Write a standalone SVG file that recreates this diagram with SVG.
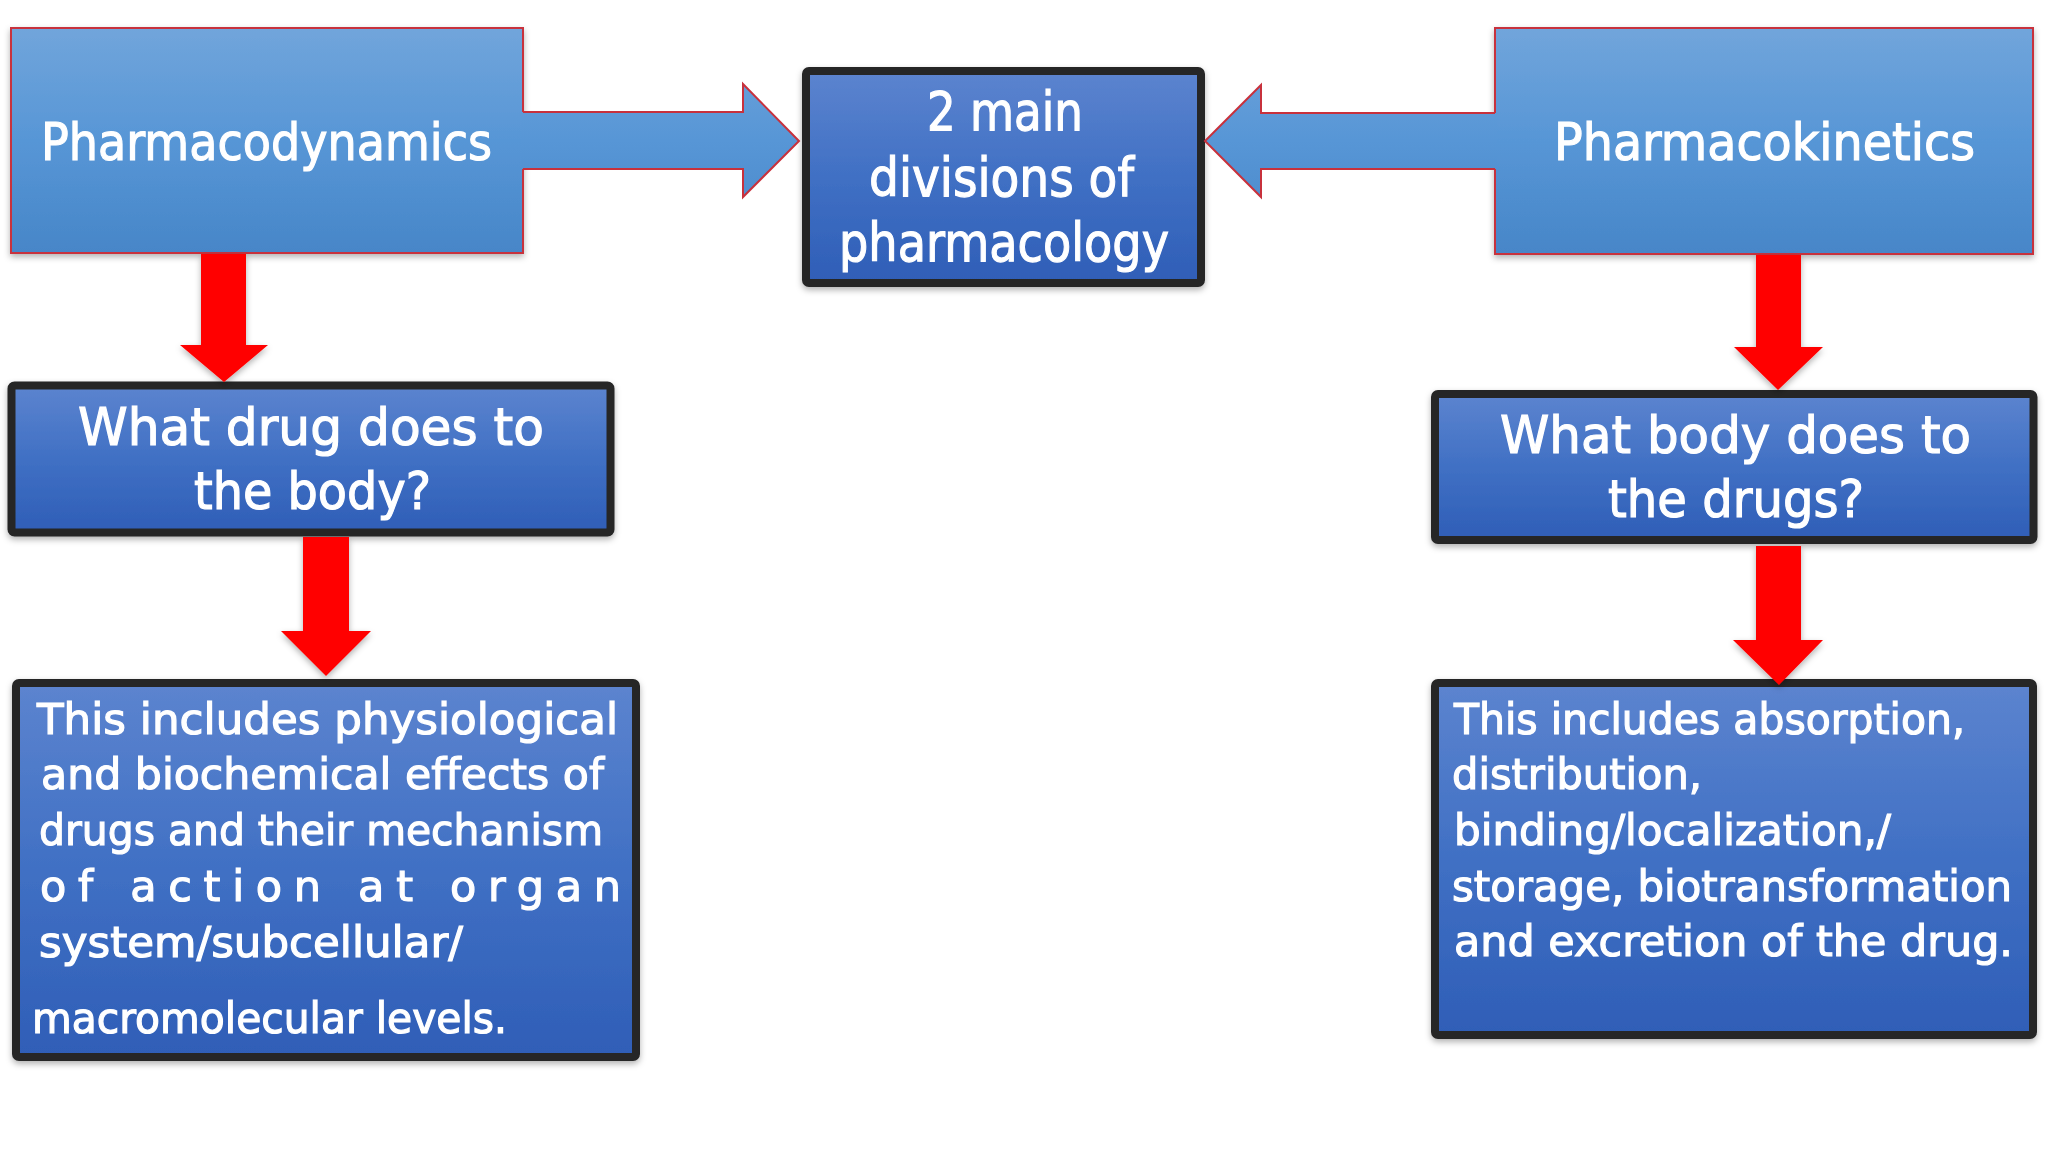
<svg xmlns="http://www.w3.org/2000/svg" width="2048" height="1152" viewBox="0 0 2048 1152">
  <defs>
    <linearGradient id="lightBlue" x1="0" y1="0" x2="0" y2="1">
      <stop offset="0" stop-color="#71A5DB"/>
      <stop offset="0.5" stop-color="#5796D6"/>
      <stop offset="1" stop-color="#4786C8"/>
    </linearGradient>
    <linearGradient id="lightBlueUse1" gradientUnits="userSpaceOnUse" x1="0" y1="28" x2="0" y2="253">
      <stop offset="0" stop-color="#71A5DB"/>
      <stop offset="0.5" stop-color="#5796D6"/>
      <stop offset="1" stop-color="#4786C8"/>
    </linearGradient>
    <linearGradient id="darkBlue" x1="0" y1="0" x2="0" y2="1">
      <stop offset="0" stop-color="#5C84CF"/>
      <stop offset="0.5" stop-color="#4070C4"/>
      <stop offset="1" stop-color="#2F5EB7"/>
    </linearGradient>
    <filter id="shadow" x="-5%" y="-5%" width="110%" height="120%">
      <feDropShadow dx="0" dy="3" stdDeviation="3" flood-color="#000" flood-opacity="0.3"/>
    </filter>
  </defs>
  <style>
    .light { fill: url(#lightBlue); stroke: #C8313C; stroke-width: 2; }
    .dark { fill: url(#darkBlue); stroke: #262626; stroke-width: 8; }
    .t { fill: #FFFFFF; stroke: #FFFFFF; stroke-width: 1.2; font-family: "DejaVu Sans", "Liberation Sans", sans-serif; }
    .big { font-size: 52px; }
    .mid { font-size: 54px; }
    .small { font-size: 43px; }
    .red { fill: #FF0000; }
    .blueArrowFill { fill: url(#lightBlueUse1); stroke: none; }
    .blueArrowLine { fill: none; stroke: #C8313C; stroke-width: 2; stroke-linejoin: miter; }
  </style>
  <rect x="0" y="0" width="2048" height="1152" fill="#FFFFFF"/>

  <g id="node-pharmacodynamics" filter="url(#shadow)">
    <rect class="light" x="11" y="28" width="512" height="225"/>
    <text class="t big" x="41" y="160" textLength="451" lengthAdjust="spacingAndGlyphs">Pharmacodynamics</text>
  </g>

  <g id="node-pharmacokinetics" filter="url(#shadow)">
    <rect class="light" x="1495" y="28" width="538" height="226"/>
    <text class="t big" x="1554" y="160" textLength="421" lengthAdjust="spacingAndGlyphs">Pharmacokinetics</text>
  </g>

  <g id="node-main" filter="url(#shadow)">
    <rect class="dark" x="806" y="71" width="395" height="212" rx="3"/>
    <text class="t mid" x="927" y="130" textLength="156" lengthAdjust="spacingAndGlyphs">2 main</text>
    <text class="t mid" x="869" y="196" textLength="265" lengthAdjust="spacingAndGlyphs">divisions of</text>
    <text class="t mid" x="839" y="261" textLength="330" lengthAdjust="spacingAndGlyphs">pharmacology</text>
  </g>

  <g id="node-drug-to-body" filter="url(#shadow)">
    <rect class="dark" x="11.5" y="385.5" width="599" height="147" rx="3"/>
    <text class="t big" x="78" y="445" textLength="466" lengthAdjust="spacingAndGlyphs">What drug does to</text>
    <text class="t big" x="194" y="509" textLength="237" lengthAdjust="spacingAndGlyphs">the body?</text>
  </g>

  <g id="node-body-to-drug" filter="url(#shadow)">
    <rect class="dark" x="1435" y="394" width="598.5" height="146" rx="3"/>
    <text class="t big" x="1500" y="453" textLength="471" lengthAdjust="spacingAndGlyphs">What body does to</text>
    <text class="t big" x="1608" y="517" textLength="256" lengthAdjust="spacingAndGlyphs">the drugs?</text>
  </g>

  <g id="node-pd-detail" filter="url(#shadow)">
    <rect class="dark" x="16" y="683" width="620" height="374" rx="3"/>
    <text class="t small" x="37" y="734" textLength="581" lengthAdjust="spacingAndGlyphs">This includes physiological</text>
    <text class="t small" x="41" y="789" textLength="563" lengthAdjust="spacingAndGlyphs">and biochemical effects of</text>
    <text class="t small" x="39" y="845" textLength="564" lengthAdjust="spacingAndGlyphs">drugs and their mechanism</text>
    <text class="t small" x="40" y="901" textLength="581" lengthAdjust="spacing">of action at organ</text>
    <text class="t small" x="39" y="957" textLength="424" lengthAdjust="spacingAndGlyphs">system/subcellular/</text>
    <text class="t small" x="32" y="1033" textLength="475" lengthAdjust="spacingAndGlyphs">macromolecular levels.</text>
  </g>

  <g id="node-pk-detail" filter="url(#shadow)">
    <rect class="dark" x="1435" y="683" width="598" height="352" rx="3"/>
    <text class="t small" x="1454" y="734" textLength="511" lengthAdjust="spacingAndGlyphs">This includes absorption,</text>
    <text class="t small" x="1452" y="789" textLength="250" lengthAdjust="spacingAndGlyphs">distribution,</text>
    <text class="t small" x="1454" y="845" textLength="437" lengthAdjust="spacingAndGlyphs">binding/localization,/</text>
    <text class="t small" x="1452" y="901" textLength="560" lengthAdjust="spacingAndGlyphs">storage, biotransformation</text>
    <text class="t small" x="1454" y="956" textLength="559" lengthAdjust="spacingAndGlyphs">and excretion of the drug.</text>
  </g>

  <g id="connectors">
    <g id="arrow-pd-to-main">
      <polygon class="blueArrowFill" points="521,112 743,112 743,84 799,141 743,197 743,169 521,169"/>
      <path class="blueArrowLine" d="M523,112 H743 V84 L799,141 L743,197 V169 H523"/>
    </g>
    <g id="arrow-pk-to-main">
      <polygon class="blueArrowFill" points="1497,113 1261,113 1261,85 1205,141 1261,197 1261,169 1497,169"/>
      <path class="blueArrowLine" d="M1495,113 H1261 V85 L1205,141 L1261,197 V169 H1495"/>
    </g>
    <g filter="url(#shadow)">
      <polygon id="arrow-pd-down1" class="red" points="201,254 246,254 246,345 268,345 224,382 180,345 201,345"/>
      <polygon id="arrow-pd-down2" class="red" points="303,537 349,537 349,631 371,631 326,676 281,631 303,631"/>
      <polygon id="arrow-pk-down1" class="red" points="1756,255 1801,255 1801,347 1823,347 1778,390 1734,347 1756,347"/>
      <polygon id="arrow-pk-down2" class="red" points="1756,546 1801,546 1801,640 1823,640 1779,685 1733,640 1756,640"/>
    </g>
  </g>
</svg>
